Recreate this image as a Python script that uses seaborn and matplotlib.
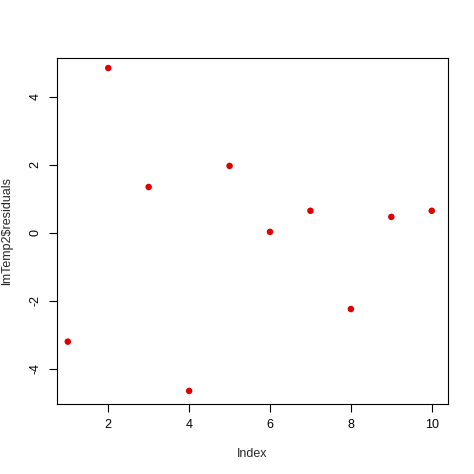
import matplotlib
matplotlib.use("Agg")
import matplotlib.pyplot as plt
import seaborn as sns
import pandas as pd

index = [1, 2, 3, 4, 5, 6, 7, 8, 9, 10]
residuals = [-3.2, 4.85, 1.35, -4.65, 1.97, 0.03, 0.65, -2.24, 0.47, 0.65]
xticks = [2, 4, 6, 8, 10]
yticks = [-4, -2, 0, 2, 4]

sns.set_style("white")
plt.rcParams['font.family'] = ['Liberation Sans', 'DejaVu Sans']
plt.rcParams['axes.unicode_minus'] = False

df = pd.DataFrame({"Index": index, "res": residuals})
fig = plt.figure(figsize=(4.74, 4.74), dpi=100)
ax = fig.add_axes([0.12, 0.148, 0.825, 0.73])
sns.scatterplot(data=df, x="Index", y="res", color="#e00000", s=22, edgecolor="none", ax=ax)
ax.set_xlim(0.73, 10.4)
ax.set_ylim(-5.03, 5.15)
ax.set_xticks(xticks)
ax.set_yticks(yticks)
ax.set_yticklabels([str(v) for v in yticks], rotation=90, va="center")
ax.tick_params(direction="out", length=6, width=0.8, colors="black", labelsize=9, left=True, bottom=True, pad=5)
for s in ax.spines.values():
    s.set_color("black"); s.set_linewidth(0.8)
ax.set_xlabel("Index", fontsize=9, labelpad=12)
ax.set_ylabel("lmTemp2$residuals", fontsize=9, labelpad=12)
fig.savefig("out.png", dpi=100, facecolor="white")
